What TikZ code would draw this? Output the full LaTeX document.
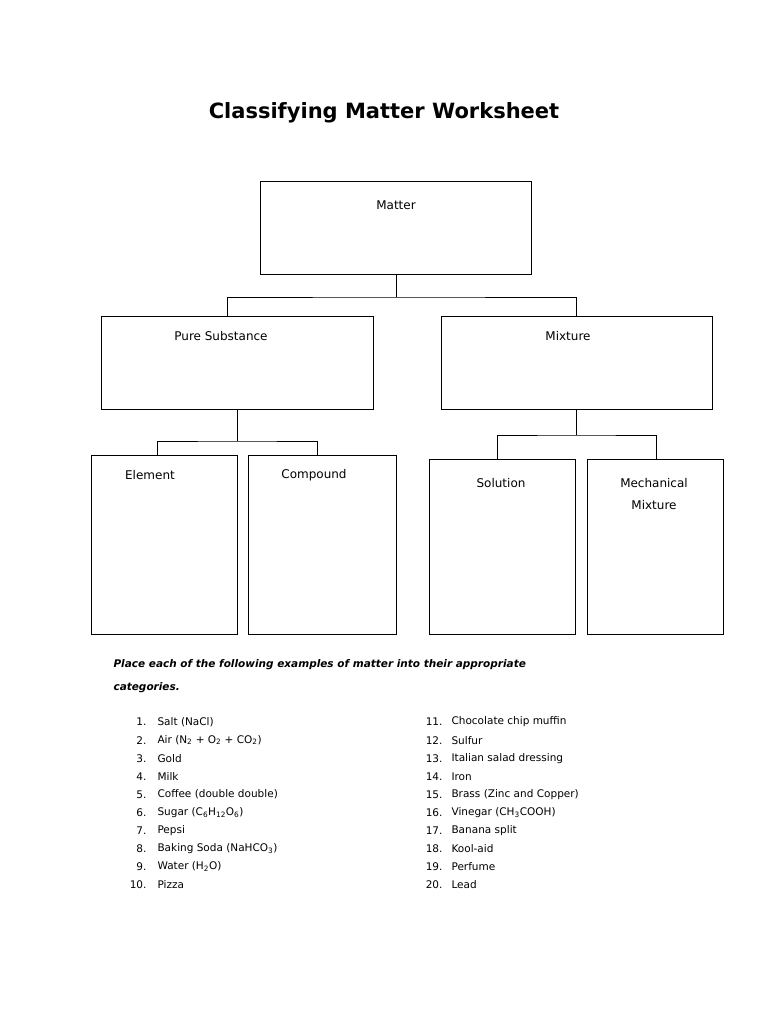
\documentclass[tikz,border=0pt]{standalone}
\usepackage{fontspec}
\setmainfont{DejaVu Sans}
\begin{document}
\begin{tikzpicture}[x=1pt,y=-1pt,
  bx/.style={draw,line width=0.8pt,anchor=north west,inner sep=0},
  lab/.style={font=\fontsize{12}{22}\selectfont},
  item/.style={font=\fontsize{10.5}{12}\selectfont,anchor=west},
  num/.style={font=\fontsize{10.5}{12}\selectfont,anchor=east},
  ln/.style={line width=0.8pt}]
\useasboundingbox[fill=white] (0,0) rectangle (768,1024);
\node[font=\fontsize{21}{25}\selectfont\bfseries] (title) at (384,113) {Classifying Matter Worksheet};
\node[bx,minimum width=271pt,minimum height=93pt] (matter) at (260,181) {};
\node[bx,minimum width=272pt,minimum height=93pt] (pure) at (101,316) {};
\node[bx,minimum width=271pt,minimum height=93pt] (mix) at (441,316) {};
\node[bx,minimum width=146pt,minimum height=179pt] (el) at (91,455) {};
\node[bx,minimum width=148pt,minimum height=179pt] (co) at (248,455) {};
\node[bx,minimum width=146pt,minimum height=175pt] (so) at (429,459) {};
\node[bx,minimum width=136pt,minimum height=175pt] (me) at (587,459) {};
\node[lab] (tm) at (396,205) {Matter};
\node[lab] (tp) at (221,336) {Pure Substance};
\node[lab] (tx) at (568,336) {Mixture};
\node[lab] (te) at (150,475) {Element};
\node[lab] (tc) at (314,475) {Compound};
\node[lab] (ts) at (501,483) {Solution};
\node[lab,align=center] (tmm) at (654,494) {Mechanical\\Mixture};
\coordinate (m1) at (396,297);
\draw[ln] (396,274) -- (m1);
\draw[ln] (227,316) |- (m1) -| (576,316);
\coordinate (p1) at (237,441);
\draw[ln] (237,409) -- (p1);
\draw[ln] (157,455) |- (p1) -| (317,455);
\coordinate (x1) at (576,435);
\draw[ln] (576,409) -- (x1);
\draw[ln] (497,459) |- (x1) -| (656,459);
\node[anchor=west,font=\fontsize{10.5}{12}\selectfont\bfseries\itshape] (ins1) at (110,665) {Place each of the following examples of matter into their appropriate};
\node[anchor=west,font=\fontsize{10.5}{12}\selectfont\bfseries\itshape] (ins2) at (110,688) {categories.};
\foreach \n/\t [count=\i from 0] in {1/Salt (NaCl),2/{Air (N\textsubscript{2} + O\textsubscript{2} + CO\textsubscript{2})},3/Gold,4/Milk,5/Coffee (double double),6/{Sugar (C\textsubscript{6}H\textsubscript{12}O\textsubscript{6})},7/Pepsi,8/{Baking Soda (NaHCO\textsubscript{3})},9/{Water (H\textsubscript{2}O)},10/Pizza}{
  \node[num] (n\n) at (150,{722+18.1*\i}) {\n.};
  \node[item] (t\n) at (154,{722+18.1*\i}) {\t};
}
\foreach \n/\t [count=\i from 0] in {11/Chocolate chip muffin,12/Sulfur,13/Italian salad dressing,14/Iron,15/Brass (Zinc and Copper),16/{Vinegar (CH\textsubscript{3}COOH)},17/Banana split,18/Kool-aid,19/Perfume,20/Lead}{
  \node[num] (n\n) at (446,{722+18.1*\i}) {\n.};
  \node[item] (t\n) at (448,{722+18.1*\i}) {\t};
}
\end{tikzpicture}
\end{document}
